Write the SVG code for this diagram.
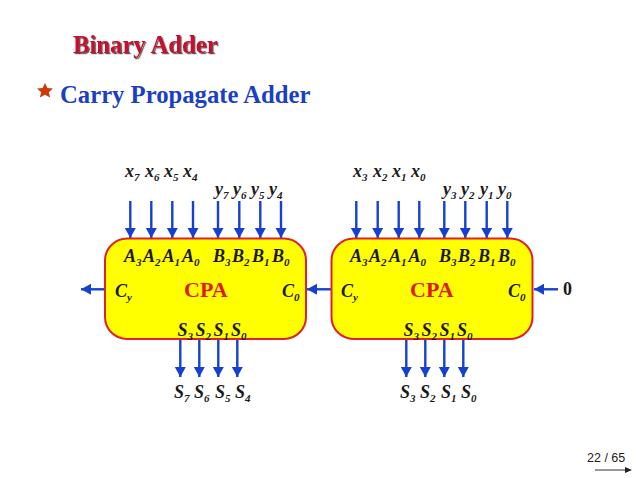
<svg xmlns="http://www.w3.org/2000/svg" width="638" height="478" viewBox="0 0 638 478">
<style>
.l{font-family:"Liberation Serif",serif;font-weight:bold;font-style:italic;font-size:18px;fill:#1a1a1a}
.s{font-size:11px}
.b{fill:#ffff00;stroke:#e0202a;stroke-width:2}
.c{font-family:"Liberation Serif",serif;font-weight:bold;font-size:22px;fill:#e01a1a}
.w{stroke:#1540d0;stroke-width:2.4;fill:none;marker-end:url(#a)}
</style>
<defs>
<marker id="a" markerUnits="userSpaceOnUse" markerWidth="11" markerHeight="12" refX="10" refY="5.5" orient="auto"><path d="M0 0L10 5.5L0 11Z" fill="#1540d0"/></marker>
<filter id="sh" x="-5%" y="-20%" width="110%" height="140%"><feDropShadow dx="1.2" dy="1.2" stdDeviation="0.5" flood-color="#555555"/></filter>
</defs>
<rect width="638" height="478" fill="#ffffff"/>
<g id="title"><text x="73" y="52.500" filter="url(#sh)" font-family="Liberation Serif, serif" font-weight="bold" font-size="24.700" fill="#c8102e">Binary Adder</text></g>
<g id="heading"><polygon points="45,83 47.4,88 53,88.6 48.8,92.2 50.2,97.5 45,94.7 39.8,97.5 41.2,92.2 37,88.6 42.6,88" fill="#cc3a0e"/><text x="60" y="103" font-family="Liberation Serif, serif" font-weight="bold" font-size="24.700" fill="#1a3fc4">Carry Propagate Adder</text></g>
<g id="connectors">
<path class="w" d="M130.3 201V238"/><path class="w" d="M151.3 201V238"/><path class="w" d="M172.3 201V238"/><path class="w" d="M193 201V238"/>
<path class="w" d="M218 201V238"/><path class="w" d="M239.3 201V238"/><path class="w" d="M260.3 201V238"/><path class="w" d="M281 201V238"/>
<path class="w" d="M356.3 201V238"/><path class="w" d="M377.7 201V238"/><path class="w" d="M398.7 201V238"/><path class="w" d="M419.3 201V238"/>
<path class="w" d="M444.3 201V238"/><path class="w" d="M465.3 201V238"/><path class="w" d="M486.7 201V238"/><path class="w" d="M507.3 201V238"/>
<path class="w" d="M180.3 339V377"/><path class="w" d="M199.3 339V377"/><path class="w" d="M218.3 339V377"/><path class="w" d="M237.3 339V377"/>
<path class="w" d="M406.3 339V377"/><path class="w" d="M425.3 339V377"/><path class="w" d="M444.3 339V377"/><path class="w" d="M463.3 339V377"/>
<path class="w" d="M105 289.3H81"/><path class="w" d="M331 289.3H307"/><path class="w" d="M558 289.3H534"/>
<path d="M595 470H628" stroke="#333333" stroke-width="1" fill="none"/><path d="M632 470L625 467V473Z" fill="#222222"/>
</g>
<g id="cpa-high">
<rect class="b" x="105" y="238.500" width="201" height="100.500" rx="22" ry="22"/>
<text class="l" y="262"><tspan x="124">A</tspan><tspan class="s" dy="4">3</tspan><tspan x="143" dy="-4">A</tspan><tspan class="s" dy="4">2</tspan><tspan x="162.500" dy="-4">A</tspan><tspan class="s" dy="4">1</tspan><tspan x="182" dy="-4">A</tspan><tspan class="s" dy="4">0</tspan><tspan x="213" dy="-4">B</tspan><tspan class="s" dy="4">3</tspan><tspan x="232" dy="-4">B</tspan><tspan class="s" dy="4">2</tspan><tspan x="252" dy="-4">B</tspan><tspan class="s" dy="4">1</tspan><tspan x="272" dy="-4">B</tspan><tspan class="s" dy="4">0</tspan></text>
<text class="l" x="115" y="297">C<tspan class="s" dy="4">y</tspan></text>
<text class="c" x="184" y="297">CPA</text>
<text class="l" x="282" y="297">C<tspan class="s" dy="4">0</tspan></text>
<text class="l" y="335.500"><tspan x="177.500">S</tspan><tspan class="s" dy="4">3</tspan><tspan x="195.500" dy="-4">S</tspan><tspan class="s" dy="4">2</tspan><tspan x="213.500" dy="-4">S</tspan><tspan class="s" dy="4">1</tspan><tspan x="231" dy="-4">S</tspan><tspan class="s" dy="4">0</tspan></text>
</g>
<g id="cpa-low">
<rect class="b" x="331.500" y="238.500" width="201" height="100.500" rx="22" ry="22"/>
<text class="l" y="262"><tspan x="350">A</tspan><tspan class="s" dy="4">3</tspan><tspan x="369" dy="-4">A</tspan><tspan class="s" dy="4">2</tspan><tspan x="389" dy="-4">A</tspan><tspan class="s" dy="4">1</tspan><tspan x="408.500" dy="-4">A</tspan><tspan class="s" dy="4">0</tspan><tspan x="439" dy="-4">B</tspan><tspan class="s" dy="4">3</tspan><tspan x="458" dy="-4">B</tspan><tspan class="s" dy="4">2</tspan><tspan x="478" dy="-4">B</tspan><tspan class="s" dy="4">1</tspan><tspan x="498" dy="-4">B</tspan><tspan class="s" dy="4">0</tspan></text>
<text class="l" x="341" y="297">C<tspan class="s" dy="4">y</tspan></text>
<text class="c" x="410" y="297">CPA</text>
<text class="l" x="508" y="297">C<tspan class="s" dy="4">0</tspan></text>
<text class="l" y="335.500"><tspan x="403.500">S</tspan><tspan class="s" dy="4">3</tspan><tspan x="421.500" dy="-4">S</tspan><tspan class="s" dy="4">2</tspan><tspan x="439.500" dy="-4">S</tspan><tspan class="s" dy="4">1</tspan><tspan x="457" dy="-4">S</tspan><tspan class="s" dy="4">0</tspan></text>
</g>
<g id="inputs-high">
<text class="l" y="177"><tspan x="125">x</tspan><tspan class="s" dy="4">7</tspan><tspan x="145" dy="-4">x</tspan><tspan class="s" dy="4">6</tspan><tspan x="164" dy="-4">x</tspan><tspan class="s" dy="4">5</tspan><tspan x="183" dy="-4">x</tspan><tspan class="s" dy="4">4</tspan></text>
<text class="l" y="194.500"><tspan x="215">y</tspan><tspan class="s" dy="4">7</tspan><tspan x="233" dy="-4">y</tspan><tspan class="s" dy="4">6</tspan><tspan x="251" dy="-4">y</tspan><tspan class="s" dy="4">5</tspan><tspan x="269" dy="-4">y</tspan><tspan class="s" dy="4">4</tspan></text>
</g>
<g id="inputs-low">
<text class="l" y="177"><tspan x="353">x</tspan><tspan class="s" dy="4">3</tspan><tspan x="373" dy="-4">x</tspan><tspan class="s" dy="4">2</tspan><tspan x="392" dy="-4">x</tspan><tspan class="s" dy="4">1</tspan><tspan x="411" dy="-4">x</tspan><tspan class="s" dy="4">0</tspan></text>
<text class="l" y="194.500"><tspan x="443">y</tspan><tspan class="s" dy="4">3</tspan><tspan x="461" dy="-4">y</tspan><tspan class="s" dy="4">2</tspan><tspan x="480" dy="-4">y</tspan><tspan class="s" dy="4">1</tspan><tspan x="498" dy="-4">y</tspan><tspan class="s" dy="4">0</tspan></text>
</g>
<g id="outputs-high"><text class="l" y="398"><tspan x="174">S</tspan><tspan class="s" dy="4">7</tspan><tspan x="194" dy="-4">S</tspan><tspan class="s" dy="4">6</tspan><tspan x="215" dy="-4">S</tspan><tspan class="s" dy="4">5</tspan><tspan x="235" dy="-4">S</tspan><tspan class="s" dy="4">4</tspan></text></g>
<g id="outputs-low"><text class="l" y="398"><tspan x="400">S</tspan><tspan class="s" dy="4">3</tspan><tspan x="420" dy="-4">S</tspan><tspan class="s" dy="4">2</tspan><tspan x="441" dy="-4">S</tspan><tspan class="s" dy="4">1</tspan><tspan x="461" dy="-4">S</tspan><tspan class="s" dy="4">0</tspan></text></g>
<g id="carry-in"><text x="563" y="295" font-family="Liberation Serif, serif" font-weight="bold" font-size="18" fill="#1a1a1a">0</text></g>
<g id="page"><text x="587" y="462" font-family="Liberation Sans, sans-serif" font-size="12.500" fill="#222222">22 / 65</text></g>
</svg>
